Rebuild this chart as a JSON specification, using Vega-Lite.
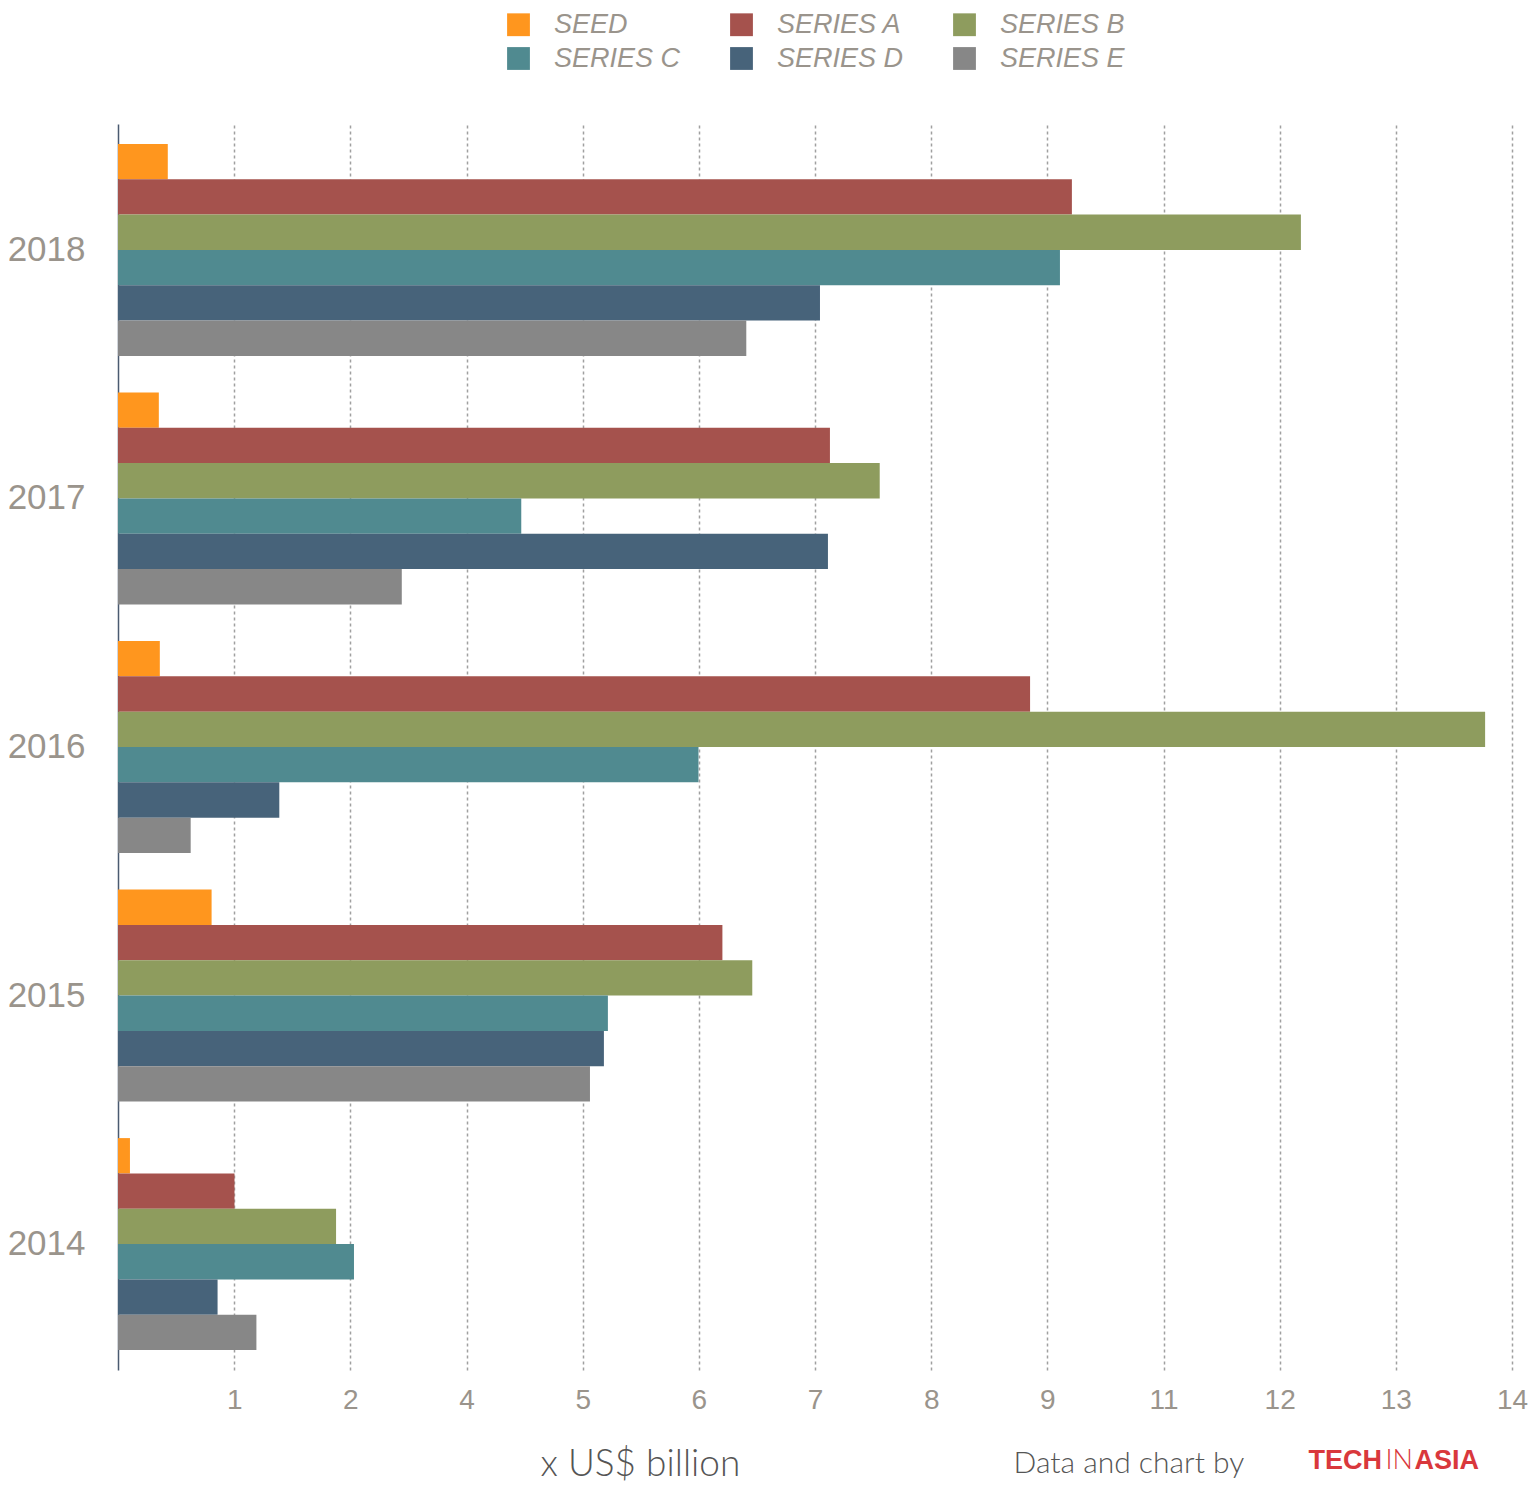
{
  "$schema": "https://vega.github.io/schema/vega-lite/v6.json",
  "width": 1394,
  "height": 1246,
  "autosize": "none",
  "padding": {"left": 118, "top": 124, "right": 26, "bottom": 122},
  "background": "white",
  "config": {"view": {"stroke": null}},
  "data": {
    "values": [
      {"year": "2018", "series": "SEED", "value": 0.50},
      {"year": "2018", "series": "SERIES A", "value": 9.58},
      {"year": "2018", "series": "SERIES B", "value": 11.88},
      {"year": "2018", "series": "SERIES C", "value": 9.46},
      {"year": "2018", "series": "SERIES D", "value": 7.05},
      {"year": "2018", "series": "SERIES E", "value": 6.31},
      {"year": "2017", "series": "SEED", "value": 0.41},
      {"year": "2017", "series": "SERIES A", "value": 7.15},
      {"year": "2017", "series": "SERIES B", "value": 7.65},
      {"year": "2017", "series": "SERIES C", "value": 4.05},
      {"year": "2017", "series": "SERIES D", "value": 7.13},
      {"year": "2017", "series": "SERIES E", "value": 2.85},
      {"year": "2016", "series": "SEED", "value": 0.42},
      {"year": "2016", "series": "SERIES A", "value": 9.16},
      {"year": "2016", "series": "SERIES B", "value": 13.73},
      {"year": "2016", "series": "SERIES C", "value": 5.83},
      {"year": "2016", "series": "SERIES D", "value": 1.62},
      {"year": "2016", "series": "SERIES E", "value": 0.73},
      {"year": "2015", "series": "SEED", "value": 0.94},
      {"year": "2015", "series": "SERIES A", "value": 6.07},
      {"year": "2015", "series": "SERIES B", "value": 6.37},
      {"year": "2015", "series": "SERIES C", "value": 4.92},
      {"year": "2015", "series": "SERIES D", "value": 4.88},
      {"year": "2015", "series": "SERIES E", "value": 4.74},
      {"year": "2014", "series": "SEED", "value": 0.12},
      {"year": "2014", "series": "SERIES A", "value": 1.17},
      {"year": "2014", "series": "SERIES B", "value": 2.19},
      {"year": "2014", "series": "SERIES C", "value": 2.37},
      {"year": "2014", "series": "SERIES D", "value": 1.00},
      {"year": "2014", "series": "SERIES E", "value": 1.39}
    ]
  },
  "resolve": {"axis": {"x": "independent"}},
  "layer": [
    {
      "mark": {"type": "bar"},
      "encoding": {
        "y": {
          "field": "year", "type": "nominal",
          "sort": ["2018", "2017", "2016", "2015", "2014"],
          "scale": {"paddingInner": 0.147, "paddingOuter": 0.08},
          "axis": {
            "title": null, "ticks": false, "labelPadding": 33,
            "labelFont": "Liberation Sans", "labelFontSize": 35, "labelColor": "#9a948c",
            "domainColor": "#4a5a70", "domainWidth": 1.5, "grid": false
          }
        },
        "yOffset": {
          "field": "series", "type": "nominal",
          "sort": ["SEED", "SERIES A", "SERIES B", "SERIES C", "SERIES D", "SERIES E"],
          "scale": {"paddingInner": 0, "paddingOuter": 0}
        },
        "x": {
          "field": "value", "type": "quantitative",
          "scale": {"domain": [0, 14], "nice": false, "zero": true},
          "axis": {
            "orient": "bottom",
            "values": [1.16667, 2.33333, 3.5, 4.66667, 5.83333, 7, 8.16667, 9.33333, 10.5, 11.66667, 12.83333, 14],
            "labelExpr": "round(datum.value)", "labelFlush": false, "labelOverlap": false,
            "domain": false, "ticks": false, "labelPadding": 16,
            "labelFont": "Liberation Sans", "labelFontSize": 28, "labelColor": "#9a948c",
            "grid": true, "gridColor": "#a0a0a0", "gridDash": [3, 3], "gridWidth": 1.5,
            "title": "x US$ billion", "titleFont": "Lato", "titleFontWeight": 300,
            "titleFontSize": 37, "titleColor": "#555555",
            "titleAnchor": "start", "titleAlign": "left", "titleBaseline": "alphabetic",
            "titleX": 422, "titleY": 105
          }
        },
        "color": {
          "field": "series", "type": "nominal",
          "scale": {
            "domain": ["SEED", "SERIES A", "SERIES B", "SERIES C", "SERIES D", "SERIES E"],
            "range": ["#ff961e", "#a5524d", "#8e9c5e", "#508a90", "#47637a", "#878787"]
          },
          "legend": {
            "title": null, "orient": "none", "legendX": 387, "legendY": -113,
            "direction": "horizontal", "columns": 3, "gridAlign": "all",
            "symbolType": "square", "symbolSize": 520, "symbolStrokeWidth": 0,
            "labelFont": "Liberation Sans", "labelFontStyle": "italic", "labelFontSize": 27,
            "labelColor": "#9a948c", "labelOffset": 22, "columnPadding": 47, "rowPadding": 6,
            "labelLimit": 300
          }
        }
      }
    },
    {
      "mark": {"type": "rule", "strokeOpacity": 0},
      "encoding": {
        "x": {
          "datum": 0, "type": "quantitative",
          "axis": {
            "orient": "bottom",
            "labels": false, "ticks": false, "domain": false, "grid": false,
            "title": "Data and chart by", "titleFont": "Lato", "titleFontWeight": 300,
            "titleFontSize": 30, "titleColor": "#555555",
            "titleAnchor": "start", "titleAlign": "left", "titleBaseline": "alphabetic",
            "titleX": 895, "titleY": 102
          }
        }
      }
    },
    {
      "mark": {"type": "rule", "strokeOpacity": 0},
      "encoding": {
        "x": {
          "datum": 0, "type": "quantitative",
          "axis": {
            "orient": "bottom",
            "labels": false, "ticks": false, "domain": false, "grid": false,
            "title": "TECH", "titleFont": "Liberation Sans", "titleFontWeight": "bold",
            "titleFontSize": 27, "titleColor": "#d9383c",
            "titleAnchor": "start", "titleAlign": "left", "titleBaseline": "alphabetic",
            "titleX": 1190, "titleY": 98
          }
        }
      }
    },
    {
      "mark": {"type": "rule", "strokeOpacity": 0},
      "encoding": {
        "x": {
          "datum": 0, "type": "quantitative",
          "axis": {
            "orient": "bottom",
            "labels": false, "ticks": false, "domain": false, "grid": false,
            "title": "IN", "titleFont": "Lato", "titleFontWeight": 300,
            "titleFontSize": 27, "titleColor": "#d9383c",
            "titleAnchor": "start", "titleAlign": "left", "titleBaseline": "alphabetic",
            "titleX": 1267, "titleY": 98
          }
        }
      }
    },
    {
      "mark": {"type": "rule", "strokeOpacity": 0},
      "encoding": {
        "x": {
          "datum": 0, "type": "quantitative",
          "axis": {
            "orient": "bottom",
            "labels": false, "ticks": false, "domain": false, "grid": false,
            "title": "ASIA", "titleFont": "Liberation Sans", "titleFontWeight": "bold",
            "titleFontSize": 27, "titleColor": "#d9383c",
            "titleAnchor": "start", "titleAlign": "left", "titleBaseline": "alphabetic",
            "titleX": 1296, "titleY": 98
          }
        }
      }
    }
  ]
}
